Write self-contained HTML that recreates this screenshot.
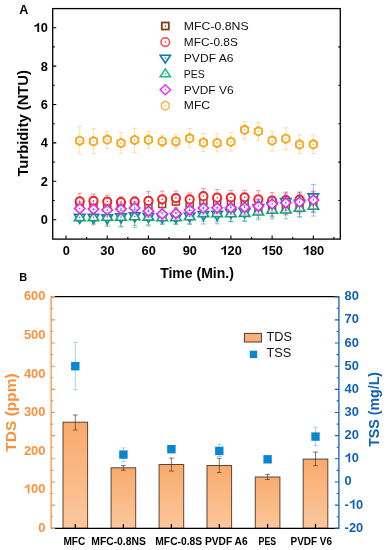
<!DOCTYPE html>
<html><head><meta charset="utf-8"><title>Chart</title>
<style>
html,body{margin:0;padding:0;background:#fff;width:387px;height:550px;overflow:hidden}
svg{display:block;font-family:"Liberation Sans",sans-serif;will-change:transform}
</style></head><body>
<svg width="387" height="550" viewBox="0 0 387 550">
<rect width="387" height="550" fill="#fff"/>
<text x="19.2" y="14" font-size="12.5" font-weight="bold">A</text>
<rect x="52.7" y="8.6" width="287.6" height="230.5" fill="none" stroke="#000" stroke-width="1.3"/>
<path d="M52.7 219.7h3.6M52.7 200.5h2M340.3 200.5h-2M52.7 181.3h3.6M52.7 162.1h2M340.3 162.1h-2M52.7 142.9h3.6M52.7 123.7h2M340.3 123.7h-2M52.7 104.5h3.6M52.7 85.3h2M340.3 85.3h-2M52.7 66.1h3.6M52.7 46.9h2M340.3 46.9h-2M52.7 27.7h3.6M66 239.1v-3.6M86.61 239.1v-2M107.22 239.1v-3.6M127.83 239.1v-2M148.44 239.1v-3.6M169.05 239.1v-2M189.66 239.1v-3.6M210.27 239.1v-2M230.88 239.1v-3.6M251.49 239.1v-2M272.1 239.1v-3.6M292.71 239.1v-2M313.32 239.1v-3.6M333.93 239.1v-2" stroke="#000" stroke-width="1.1" fill="none"/>
<text x="47.8" y="224.1" font-size="12.8" font-weight="bold" text-anchor="end">0</text>
<text x="47.8" y="185.7" font-size="12.8" font-weight="bold" text-anchor="end">2</text>
<text x="47.8" y="147.3" font-size="12.8" font-weight="bold" text-anchor="end">4</text>
<text x="47.8" y="108.9" font-size="12.8" font-weight="bold" text-anchor="end">6</text>
<text x="47.8" y="70.5" font-size="12.8" font-weight="bold" text-anchor="end">8</text>
<path transform="translate(33.57 32.1) scale(12.8 -12.8)" d="M0.296 0L0.434 0L0.434 0.716L0.343 0.716C0.318 0.652 0.236 0.572 0.062 0.512L0.062 0.392C0.158 0.422 0.238 0.462 0.296 0.514Z" fill="#000"/><text x="40.68" y="32.1" font-size="12.8" font-weight="bold" fill="#000">0</text>
<text x="66.2" y="254.8" font-size="12.8" font-weight="bold" text-anchor="middle">0</text>
<text x="107.42" y="254.8" font-size="12.8" font-weight="bold" text-anchor="middle">30</text>
<text x="148.64" y="254.8" font-size="12.8" font-weight="bold" text-anchor="middle">60</text>
<text x="189.86" y="254.8" font-size="12.8" font-weight="bold" text-anchor="middle">90</text>
<path transform="translate(220.4 254.8) scale(12.8 -12.8)" d="M0.296 0L0.434 0L0.434 0.716L0.343 0.716C0.318 0.652 0.236 0.572 0.062 0.512L0.062 0.392C0.158 0.422 0.238 0.462 0.296 0.514Z" fill="#000"/><text x="227.52" y="254.8" font-size="12.8" font-weight="bold" fill="#000">2</text><text x="234.64" y="254.8" font-size="12.8" font-weight="bold" fill="#000">0</text>
<path transform="translate(261.62 254.8) scale(12.8 -12.8)" d="M0.296 0L0.434 0L0.434 0.716L0.343 0.716C0.318 0.652 0.236 0.572 0.062 0.512L0.062 0.392C0.158 0.422 0.238 0.462 0.296 0.514Z" fill="#000"/><text x="268.74" y="254.8" font-size="12.8" font-weight="bold" fill="#000">5</text><text x="275.86" y="254.8" font-size="12.8" font-weight="bold" fill="#000">0</text>
<path transform="translate(302.84 254.8) scale(12.8 -12.8)" d="M0.296 0L0.434 0L0.434 0.716L0.343 0.716C0.318 0.652 0.236 0.572 0.062 0.512L0.062 0.392C0.158 0.422 0.238 0.462 0.296 0.514Z" fill="#000"/><text x="309.96" y="254.8" font-size="12.8" font-weight="bold" fill="#000">8</text><text x="317.08" y="254.8" font-size="12.8" font-weight="bold" fill="#000">0</text>
<text x="197" y="277.6" font-size="14" font-weight="bold" text-anchor="middle">Time (Min.)</text>
<text transform="translate(28.2 123.3) rotate(-90)" font-size="14.8" font-weight="bold" text-anchor="middle">Turbidity (NTU)</text>
<path d="M79.74 198V199.8M77.34 198H82.14M79.74 208.2V210M77.34 210H82.14" stroke="#8c4a1c" stroke-opacity="0.5" stroke-width="0.9" fill="none"/>
<path d="M93.48 198V199.8M91.08 198H95.88M93.48 208.2V210M91.08 210H95.88" stroke="#8c4a1c" stroke-opacity="0.5" stroke-width="0.9" fill="none"/>
<path d="M107.22 199V200.8M104.82 199H109.62M107.22 209.2V211M104.82 211H109.62" stroke="#8c4a1c" stroke-opacity="0.5" stroke-width="0.9" fill="none"/>
<path d="M120.96 199V200.8M118.56 199H123.36M120.96 209.2V211M118.56 211H123.36" stroke="#8c4a1c" stroke-opacity="0.5" stroke-width="0.9" fill="none"/>
<path d="M134.7 199V200.8M132.3 199H137.1M134.7 209.2V211M132.3 211H137.1" stroke="#8c4a1c" stroke-opacity="0.5" stroke-width="0.9" fill="none"/>
<path d="M148.44 198V200.8M146.04 198H150.84M148.44 209.2V212M146.04 212H150.84" stroke="#8c4a1c" stroke-opacity="0.5" stroke-width="0.9" fill="none"/>
<path d="M162.18 197V199.8M159.78 197H164.58M162.18 208.2V211M159.78 211H164.58" stroke="#8c4a1c" stroke-opacity="0.5" stroke-width="0.9" fill="none"/>
<path d="M175.92 194.5V197.3M173.52 194.5H178.32M175.92 205.7V208.5M173.52 208.5H178.32" stroke="#8c4a1c" stroke-opacity="0.5" stroke-width="0.9" fill="none"/>
<path d="M189.66 196.5V199.3M187.26 196.5H192.06M189.66 207.7V210.5M187.26 210.5H192.06" stroke="#8c4a1c" stroke-opacity="0.5" stroke-width="0.9" fill="none"/>
<path d="M203.4 194V196.8M201 194H205.8M203.4 205.2V208M201 208H205.8" stroke="#8c4a1c" stroke-opacity="0.5" stroke-width="0.9" fill="none"/>
<path d="M217.14 195V197.8M214.74 195H219.54M217.14 206.2V209M214.74 209H219.54" stroke="#8c4a1c" stroke-opacity="0.5" stroke-width="0.9" fill="none"/>
<path d="M230.88 195V197.8M228.48 195H233.28M230.88 206.2V209M228.48 209H233.28" stroke="#8c4a1c" stroke-opacity="0.5" stroke-width="0.9" fill="none"/>
<path d="M244.62 195V197.8M242.22 195H247.02M244.62 206.2V209M242.22 209H247.02" stroke="#8c4a1c" stroke-opacity="0.5" stroke-width="0.9" fill="none"/>
<path d="M258.36 201V203.8M255.96 201H260.76M258.36 212.2V215M255.96 215H260.76" stroke="#8c4a1c" stroke-opacity="0.5" stroke-width="0.9" fill="none"/>
<path d="M272.1 202V204.8M269.7 202H274.5M272.1 213.2V216M269.7 216H274.5" stroke="#8c4a1c" stroke-opacity="0.5" stroke-width="0.9" fill="none"/>
<path d="M285.84 201V203.8M283.44 201H288.24M285.84 212.2V215M283.44 215H288.24" stroke="#8c4a1c" stroke-opacity="0.5" stroke-width="0.9" fill="none"/>
<path d="M299.58 199V201.8M297.18 199H301.98M299.58 210.2V213M297.18 213H301.98" stroke="#8c4a1c" stroke-opacity="0.5" stroke-width="0.9" fill="none"/>
<path d="M313.32 196V199.8M310.92 196H315.72M313.32 208.2V212M310.92 212H315.72" stroke="#8c4a1c" stroke-opacity="0.5" stroke-width="0.9" fill="none"/>
<rect x="76.24" y="200.5" width="7" height="7" fill="#fff" stroke="#8c4a1c" stroke-width="1.5"/><circle cx="79.74" cy="204" r="0.8" fill="#8c4a1c"/>
<rect x="89.98" y="200.5" width="7" height="7" fill="#fff" stroke="#8c4a1c" stroke-width="1.5"/><circle cx="93.48" cy="204" r="0.8" fill="#8c4a1c"/>
<rect x="103.72" y="201.5" width="7" height="7" fill="#fff" stroke="#8c4a1c" stroke-width="1.5"/><circle cx="107.22" cy="205" r="0.8" fill="#8c4a1c"/>
<rect x="117.46" y="201.5" width="7" height="7" fill="#fff" stroke="#8c4a1c" stroke-width="1.5"/><circle cx="120.96" cy="205" r="0.8" fill="#8c4a1c"/>
<rect x="131.2" y="201.5" width="7" height="7" fill="#fff" stroke="#8c4a1c" stroke-width="1.5"/><circle cx="134.7" cy="205" r="0.8" fill="#8c4a1c"/>
<rect x="144.94" y="201.5" width="7" height="7" fill="#fff" stroke="#8c4a1c" stroke-width="1.5"/><circle cx="148.44" cy="205" r="0.8" fill="#8c4a1c"/>
<rect x="158.68" y="200.5" width="7" height="7" fill="#fff" stroke="#8c4a1c" stroke-width="1.5"/><circle cx="162.18" cy="204" r="0.8" fill="#8c4a1c"/>
<rect x="172.42" y="198" width="7" height="7" fill="#fff" stroke="#8c4a1c" stroke-width="1.5"/><circle cx="175.92" cy="201.5" r="0.8" fill="#8c4a1c"/>
<rect x="186.16" y="200" width="7" height="7" fill="#fff" stroke="#8c4a1c" stroke-width="1.5"/><circle cx="189.66" cy="203.5" r="0.8" fill="#8c4a1c"/>
<rect x="199.9" y="197.5" width="7" height="7" fill="#fff" stroke="#8c4a1c" stroke-width="1.5"/><circle cx="203.4" cy="201" r="0.8" fill="#8c4a1c"/>
<rect x="213.64" y="198.5" width="7" height="7" fill="#fff" stroke="#8c4a1c" stroke-width="1.5"/><circle cx="217.14" cy="202" r="0.8" fill="#8c4a1c"/>
<rect x="227.38" y="198.5" width="7" height="7" fill="#fff" stroke="#8c4a1c" stroke-width="1.5"/><circle cx="230.88" cy="202" r="0.8" fill="#8c4a1c"/>
<rect x="241.12" y="198.5" width="7" height="7" fill="#fff" stroke="#8c4a1c" stroke-width="1.5"/><circle cx="244.62" cy="202" r="0.8" fill="#8c4a1c"/>
<rect x="254.86" y="204.5" width="7" height="7" fill="#fff" stroke="#8c4a1c" stroke-width="1.5"/><circle cx="258.36" cy="208" r="0.8" fill="#8c4a1c"/>
<rect x="268.6" y="205.5" width="7" height="7" fill="#fff" stroke="#8c4a1c" stroke-width="1.5"/><circle cx="272.1" cy="209" r="0.8" fill="#8c4a1c"/>
<rect x="282.34" y="204.5" width="7" height="7" fill="#fff" stroke="#8c4a1c" stroke-width="1.5"/><circle cx="285.84" cy="208" r="0.8" fill="#8c4a1c"/>
<rect x="296.08" y="202.5" width="7" height="7" fill="#fff" stroke="#8c4a1c" stroke-width="1.5"/><circle cx="299.58" cy="206" r="0.8" fill="#8c4a1c"/>
<rect x="309.82" y="200.5" width="7" height="7" fill="#fff" stroke="#8c4a1c" stroke-width="1.5"/><circle cx="313.32" cy="204" r="0.8" fill="#8c4a1c"/>
<path d="M79.74 193.2V196.4M77.34 193.2H82.14M79.74 206.4V209.6M77.34 209.6H82.14" stroke="#f2222a" stroke-opacity="0.5" stroke-width="0.9" fill="none"/>
<path d="M93.48 194.2V195.9M91.08 194.2H95.88M93.48 205.9V207.6M91.08 207.6H95.88" stroke="#f2222a" stroke-opacity="0.5" stroke-width="0.9" fill="none"/>
<path d="M107.22 195.1V196.5M104.82 195.1H109.62M107.22 206.5V207.9M104.82 207.9H109.62" stroke="#f2222a" stroke-opacity="0.5" stroke-width="0.9" fill="none"/>
<path d="M120.96 196.3V197.1M118.56 196.3H123.36M120.96 207.1V207.9M118.56 207.9H123.36" stroke="#f2222a" stroke-opacity="0.5" stroke-width="0.9" fill="none"/>
<path d="M134.7 196.3V196.5M132.3 196.3H137.1M134.7 206.5V206.7M132.3 206.7H137.1" stroke="#f2222a" stroke-opacity="0.5" stroke-width="0.9" fill="none"/>
<path d="M148.44 191.6V195.9M146.04 191.6H150.84M148.44 205.9V210.2M146.04 210.2H150.84" stroke="#f2222a" stroke-opacity="0.5" stroke-width="0.9" fill="none"/>
<path d="M162.18 191.1V194.3M159.78 191.1H164.58M162.18 204.3V207.5M159.78 207.5H164.58" stroke="#f2222a" stroke-opacity="0.5" stroke-width="0.9" fill="none"/>
<path d="M175.92 191V193.1M173.52 191H178.32M175.92 203.1V205.2M173.52 205.2H178.32" stroke="#f2222a" stroke-opacity="0.5" stroke-width="0.9" fill="none"/>
<path d="M189.66 193V194.4M187.26 193H192.06M189.66 204.4V205.8M187.26 205.8H192.06" stroke="#f2222a" stroke-opacity="0.5" stroke-width="0.9" fill="none"/>
<path d="M203.4 188.7V191.2M201 188.7H205.8M203.4 201.2V203.7M201 203.7H205.8" stroke="#f2222a" stroke-opacity="0.5" stroke-width="0.9" fill="none"/>
<path d="M217.14 189.5V192.7M214.74 189.5H219.54M217.14 202.7V205.9M214.74 205.9H219.54" stroke="#f2222a" stroke-opacity="0.5" stroke-width="0.9" fill="none"/>
<path d="M230.88 190.5V192.5M228.48 190.5H233.28M230.88 202.5V204.5M228.48 204.5H233.28" stroke="#f2222a" stroke-opacity="0.5" stroke-width="0.9" fill="none"/>
<path d="M244.62 190.2V192.3M242.22 190.2H247.02M244.62 202.3V204.4M242.22 204.4H247.02" stroke="#f2222a" stroke-opacity="0.5" stroke-width="0.9" fill="none"/>
<path d="M258.36 190.7V194.4M255.96 190.7H260.76M258.36 204.4V208.1M255.96 208.1H260.76" stroke="#f2222a" stroke-opacity="0.5" stroke-width="0.9" fill="none"/>
<path d="M272.1 192.6V195.6M269.7 192.6H274.5M272.1 205.6V208.6M269.7 208.6H274.5" stroke="#f2222a" stroke-opacity="0.5" stroke-width="0.9" fill="none"/>
<path d="M285.84 193V195M283.44 193H288.24M285.84 205V207M283.44 207H288.24" stroke="#f2222a" stroke-opacity="0.5" stroke-width="0.9" fill="none"/>
<path d="M299.58 192V194.5M297.18 192H301.98M299.58 204.5V207M297.18 207H301.98" stroke="#f2222a" stroke-opacity="0.5" stroke-width="0.9" fill="none"/>
<path d="M313.32 192V194M310.92 192H315.72M313.32 204V206M310.92 206H315.72" stroke="#f2222a" stroke-opacity="0.5" stroke-width="0.9" fill="none"/>
<circle cx="79.74" cy="201.4" r="4.1" fill="#fff" stroke="#f2222a" stroke-width="2.0"/><circle cx="79.74" cy="201.4" r="0.8" fill="#f2222a"/>
<circle cx="93.48" cy="200.9" r="4.1" fill="#fff" stroke="#f2222a" stroke-width="2.0"/><circle cx="93.48" cy="200.9" r="0.8" fill="#f2222a"/>
<circle cx="107.22" cy="201.5" r="4.1" fill="#fff" stroke="#f2222a" stroke-width="2.0"/><circle cx="107.22" cy="201.5" r="0.8" fill="#f2222a"/>
<circle cx="120.96" cy="202.1" r="4.1" fill="#fff" stroke="#f2222a" stroke-width="2.0"/><circle cx="120.96" cy="202.1" r="0.8" fill="#f2222a"/>
<circle cx="134.7" cy="201.5" r="4.1" fill="#fff" stroke="#f2222a" stroke-width="2.0"/><circle cx="134.7" cy="201.5" r="0.8" fill="#f2222a"/>
<circle cx="148.44" cy="200.9" r="4.1" fill="#fff" stroke="#f2222a" stroke-width="2.0"/><circle cx="148.44" cy="200.9" r="0.8" fill="#f2222a"/>
<circle cx="162.18" cy="199.3" r="4.1" fill="#fff" stroke="#f2222a" stroke-width="2.0"/><circle cx="162.18" cy="199.3" r="0.8" fill="#f2222a"/>
<circle cx="175.92" cy="198.1" r="4.1" fill="#fff" stroke="#f2222a" stroke-width="2.0"/><circle cx="175.92" cy="198.1" r="0.8" fill="#f2222a"/>
<circle cx="189.66" cy="199.4" r="4.1" fill="#fff" stroke="#f2222a" stroke-width="2.0"/><circle cx="189.66" cy="199.4" r="0.8" fill="#f2222a"/>
<circle cx="203.4" cy="196.2" r="4.1" fill="#fff" stroke="#f2222a" stroke-width="2.0"/><circle cx="203.4" cy="196.2" r="0.8" fill="#f2222a"/>
<circle cx="217.14" cy="197.7" r="4.1" fill="#fff" stroke="#f2222a" stroke-width="2.0"/><circle cx="217.14" cy="197.7" r="0.8" fill="#f2222a"/>
<circle cx="230.88" cy="197.5" r="4.1" fill="#fff" stroke="#f2222a" stroke-width="2.0"/><circle cx="230.88" cy="197.5" r="0.8" fill="#f2222a"/>
<circle cx="244.62" cy="197.3" r="4.1" fill="#fff" stroke="#f2222a" stroke-width="2.0"/><circle cx="244.62" cy="197.3" r="0.8" fill="#f2222a"/>
<circle cx="258.36" cy="199.4" r="4.1" fill="#fff" stroke="#f2222a" stroke-width="2.0"/><circle cx="258.36" cy="199.4" r="0.8" fill="#f2222a"/>
<circle cx="272.1" cy="200.6" r="4.1" fill="#fff" stroke="#f2222a" stroke-width="2.0"/><circle cx="272.1" cy="200.6" r="0.8" fill="#f2222a"/>
<circle cx="285.84" cy="200" r="4.1" fill="#fff" stroke="#f2222a" stroke-width="2.0"/><circle cx="285.84" cy="200" r="0.8" fill="#f2222a"/>
<circle cx="299.58" cy="199.5" r="4.1" fill="#fff" stroke="#f2222a" stroke-width="2.0"/><circle cx="299.58" cy="199.5" r="0.8" fill="#f2222a"/>
<circle cx="313.32" cy="199" r="4.1" fill="#fff" stroke="#f2222a" stroke-width="2.0"/><circle cx="313.32" cy="199" r="0.8" fill="#f2222a"/>
<polygon points="74.44,214.4 85.04,214.4 79.74,223.4" fill="#fff" stroke="#1a78b8" stroke-width="1.6" stroke-linejoin="miter"/><circle cx="79.74" cy="217.9" r="0.8" fill="#1a78b8"/>
<polygon points="88.18,214.4 98.78,214.4 93.48,223.4" fill="#fff" stroke="#1a78b8" stroke-width="1.6" stroke-linejoin="miter"/><circle cx="93.48" cy="217.9" r="0.8" fill="#1a78b8"/>
<polygon points="101.92,214.9 112.52,214.9 107.22,223.9" fill="#fff" stroke="#1a78b8" stroke-width="1.6" stroke-linejoin="miter"/><circle cx="107.22" cy="218.4" r="0.8" fill="#1a78b8"/>
<polygon points="115.66,213.9 126.26,213.9 120.96,222.9" fill="#fff" stroke="#1a78b8" stroke-width="1.6" stroke-linejoin="miter"/><circle cx="120.96" cy="217.4" r="0.8" fill="#1a78b8"/>
<polygon points="129.4,212.9 140,212.9 134.7,221.9" fill="#fff" stroke="#1a78b8" stroke-width="1.6" stroke-linejoin="miter"/><circle cx="134.7" cy="216.4" r="0.8" fill="#1a78b8"/>
<polygon points="143.14,213.5 153.74,213.5 148.44,222.5" fill="#fff" stroke="#1a78b8" stroke-width="1.6" stroke-linejoin="miter"/><circle cx="148.44" cy="217" r="0.8" fill="#1a78b8"/>
<polygon points="156.88,214 167.48,214 162.18,223" fill="#fff" stroke="#1a78b8" stroke-width="1.6" stroke-linejoin="miter"/><circle cx="162.18" cy="217.5" r="0.8" fill="#1a78b8"/>
<polygon points="170.62,214 181.22,214 175.92,223" fill="#fff" stroke="#1a78b8" stroke-width="1.6" stroke-linejoin="miter"/><circle cx="175.92" cy="217.5" r="0.8" fill="#1a78b8"/>
<polygon points="184.36,213 194.96,213 189.66,222" fill="#fff" stroke="#1a78b8" stroke-width="1.6" stroke-linejoin="miter"/><circle cx="189.66" cy="216.5" r="0.8" fill="#1a78b8"/>
<polygon points="198.1,211.5 208.7,211.5 203.4,220.5" fill="#fff" stroke="#1a78b8" stroke-width="1.6" stroke-linejoin="miter"/><circle cx="203.4" cy="215" r="0.8" fill="#1a78b8"/>
<polygon points="211.84,211.3 222.44,211.3 217.14,220.3" fill="#fff" stroke="#1a78b8" stroke-width="1.6" stroke-linejoin="miter"/><circle cx="217.14" cy="214.8" r="0.8" fill="#1a78b8"/>
<polygon points="225.58,209.3 236.18,209.3 230.88,218.3" fill="#fff" stroke="#1a78b8" stroke-width="1.6" stroke-linejoin="miter"/><circle cx="230.88" cy="212.8" r="0.8" fill="#1a78b8"/>
<polygon points="239.32,208.7 249.92,208.7 244.62,217.7" fill="#fff" stroke="#1a78b8" stroke-width="1.6" stroke-linejoin="miter"/><circle cx="244.62" cy="212.2" r="0.8" fill="#1a78b8"/>
<polygon points="253.06,204.5 263.66,204.5 258.36,213.5" fill="#fff" stroke="#1a78b8" stroke-width="1.6" stroke-linejoin="miter"/><circle cx="258.36" cy="208" r="0.8" fill="#1a78b8"/>
<polygon points="266.8,202.5 277.4,202.5 272.1,211.5" fill="#fff" stroke="#1a78b8" stroke-width="1.6" stroke-linejoin="miter"/><circle cx="272.1" cy="206" r="0.8" fill="#1a78b8"/>
<polygon points="280.54,198.5 291.14,198.5 285.84,207.5" fill="#fff" stroke="#1a78b8" stroke-width="1.6" stroke-linejoin="miter"/><circle cx="285.84" cy="202" r="0.8" fill="#1a78b8"/>
<polygon points="294.28,200.3 304.88,200.3 299.58,209.3" fill="#fff" stroke="#1a78b8" stroke-width="1.6" stroke-linejoin="miter"/><circle cx="299.58" cy="203.8" r="0.8" fill="#1a78b8"/>
<polygon points="308.02,193.9 318.62,193.9 313.32,202.9" fill="#fff" stroke="#1a78b8" stroke-width="1.6" stroke-linejoin="miter"/><circle cx="313.32" cy="197.4" r="0.8" fill="#1a78b8"/>
<polygon points="79.74,212.2 85.04,220.6 74.44,220.6" fill="#fff" stroke="#13a273" stroke-width="1.6" stroke-linejoin="miter"/><circle cx="79.74" cy="217.4" r="0.8" fill="#13a273"/>
<polygon points="93.48,212.2 98.78,220.6 88.18,220.6" fill="#fff" stroke="#13a273" stroke-width="1.6" stroke-linejoin="miter"/><circle cx="93.48" cy="217.4" r="0.8" fill="#13a273"/>
<polygon points="107.22,211.8 112.52,220.2 101.92,220.2" fill="#fff" stroke="#13a273" stroke-width="1.6" stroke-linejoin="miter"/><circle cx="107.22" cy="217" r="0.8" fill="#13a273"/>
<polygon points="120.96,211.8 126.26,220.2 115.66,220.2" fill="#fff" stroke="#13a273" stroke-width="1.6" stroke-linejoin="miter"/><circle cx="120.96" cy="217" r="0.8" fill="#13a273"/>
<polygon points="134.7,211.3 140,219.7 129.4,219.7" fill="#fff" stroke="#13a273" stroke-width="1.6" stroke-linejoin="miter"/><circle cx="134.7" cy="216.5" r="0.8" fill="#13a273"/>
<polygon points="148.44,211.7 153.74,220.1 143.14,220.1" fill="#fff" stroke="#13a273" stroke-width="1.6" stroke-linejoin="miter"/><circle cx="148.44" cy="216.9" r="0.8" fill="#13a273"/>
<polygon points="162.18,212.4 167.48,220.8 156.88,220.8" fill="#fff" stroke="#13a273" stroke-width="1.6" stroke-linejoin="miter"/><circle cx="162.18" cy="217.6" r="0.8" fill="#13a273"/>
<polygon points="175.92,212.4 181.22,220.8 170.62,220.8" fill="#fff" stroke="#13a273" stroke-width="1.6" stroke-linejoin="miter"/><circle cx="175.92" cy="217.6" r="0.8" fill="#13a273"/>
<polygon points="189.66,211.3 194.96,219.7 184.36,219.7" fill="#fff" stroke="#13a273" stroke-width="1.6" stroke-linejoin="miter"/><circle cx="189.66" cy="216.5" r="0.8" fill="#13a273"/>
<polygon points="203.4,208.2 208.7,216.6 198.1,216.6" fill="#fff" stroke="#13a273" stroke-width="1.6" stroke-linejoin="miter"/><circle cx="203.4" cy="213.4" r="0.8" fill="#13a273"/>
<polygon points="217.14,208.2 222.44,216.6 211.84,216.6" fill="#fff" stroke="#13a273" stroke-width="1.6" stroke-linejoin="miter"/><circle cx="217.14" cy="213.4" r="0.8" fill="#13a273"/>
<polygon points="230.88,208.3 236.18,216.7 225.58,216.7" fill="#fff" stroke="#13a273" stroke-width="1.6" stroke-linejoin="miter"/><circle cx="230.88" cy="213.5" r="0.8" fill="#13a273"/>
<polygon points="244.62,208 249.92,216.4 239.32,216.4" fill="#fff" stroke="#13a273" stroke-width="1.6" stroke-linejoin="miter"/><circle cx="244.62" cy="213.2" r="0.8" fill="#13a273"/>
<polygon points="258.36,206.6 263.66,215 253.06,215" fill="#fff" stroke="#13a273" stroke-width="1.6" stroke-linejoin="miter"/><circle cx="258.36" cy="211.8" r="0.8" fill="#13a273"/>
<polygon points="272.1,204.9 277.4,213.3 266.8,213.3" fill="#fff" stroke="#13a273" stroke-width="1.6" stroke-linejoin="miter"/><circle cx="272.1" cy="210.1" r="0.8" fill="#13a273"/>
<polygon points="285.84,204.6 291.14,213 280.54,213" fill="#fff" stroke="#13a273" stroke-width="1.6" stroke-linejoin="miter"/><circle cx="285.84" cy="209.8" r="0.8" fill="#13a273"/>
<polygon points="299.58,202.8 304.88,211.2 294.28,211.2" fill="#fff" stroke="#13a273" stroke-width="1.6" stroke-linejoin="miter"/><circle cx="299.58" cy="208" r="0.8" fill="#13a273"/>
<polygon points="313.32,200.9 318.62,209.3 308.02,209.3" fill="#fff" stroke="#13a273" stroke-width="1.6" stroke-linejoin="miter"/><circle cx="313.32" cy="206.1" r="0.8" fill="#13a273"/>
<polygon points="79.74,203.5 84.94,208.5 79.74,213.5 74.54,208.5" fill="#fff" stroke="#f020f0" stroke-width="1.6"/><circle cx="79.74" cy="208.5" r="0.8" fill="#f020f0"/>
<polygon points="93.48,204.1 98.68,209.1 93.48,214.1 88.28,209.1" fill="#fff" stroke="#f020f0" stroke-width="1.6"/><circle cx="93.48" cy="209.1" r="0.8" fill="#f020f0"/>
<polygon points="107.22,205 112.42,210 107.22,215 102.02,210" fill="#fff" stroke="#f020f0" stroke-width="1.6"/><circle cx="107.22" cy="210" r="0.8" fill="#f020f0"/>
<polygon points="120.96,204.1 126.16,209.1 120.96,214.1 115.76,209.1" fill="#fff" stroke="#f020f0" stroke-width="1.6"/><circle cx="120.96" cy="209.1" r="0.8" fill="#f020f0"/>
<polygon points="134.7,203 139.9,208 134.7,213 129.5,208" fill="#fff" stroke="#f020f0" stroke-width="1.6"/><circle cx="134.7" cy="208" r="0.8" fill="#f020f0"/>
<polygon points="148.44,206.2 153.64,211.2 148.44,216.2 143.24,211.2" fill="#fff" stroke="#f020f0" stroke-width="1.6"/><circle cx="148.44" cy="211.2" r="0.8" fill="#f020f0"/>
<polygon points="162.18,209 167.38,214 162.18,219 156.98,214" fill="#fff" stroke="#f020f0" stroke-width="1.6"/><circle cx="162.18" cy="214" r="0.8" fill="#f020f0"/>
<polygon points="175.92,208.4 181.12,213.4 175.92,218.4 170.72,213.4" fill="#fff" stroke="#f020f0" stroke-width="1.6"/><circle cx="175.92" cy="213.4" r="0.8" fill="#f020f0"/>
<polygon points="189.66,204.9 194.86,209.9 189.66,214.9 184.46,209.9" fill="#fff" stroke="#f020f0" stroke-width="1.6"/><circle cx="189.66" cy="209.9" r="0.8" fill="#f020f0"/>
<polygon points="203.4,203 208.6,208 203.4,213 198.2,208" fill="#fff" stroke="#f020f0" stroke-width="1.6"/><circle cx="203.4" cy="208" r="0.8" fill="#f020f0"/>
<polygon points="217.14,202.8 222.34,207.8 217.14,212.8 211.94,207.8" fill="#fff" stroke="#f020f0" stroke-width="1.6"/><circle cx="217.14" cy="207.8" r="0.8" fill="#f020f0"/>
<polygon points="230.88,202.8 236.08,207.8 230.88,212.8 225.68,207.8" fill="#fff" stroke="#f020f0" stroke-width="1.6"/><circle cx="230.88" cy="207.8" r="0.8" fill="#f020f0"/>
<polygon points="244.62,202.4 249.82,207.4 244.62,212.4 239.42,207.4" fill="#fff" stroke="#f020f0" stroke-width="1.6"/><circle cx="244.62" cy="207.4" r="0.8" fill="#f020f0"/>
<polygon points="258.36,201.2 263.56,206.2 258.36,211.2 253.16,206.2" fill="#fff" stroke="#f020f0" stroke-width="1.6"/><circle cx="258.36" cy="206.2" r="0.8" fill="#f020f0"/>
<polygon points="272.1,199 277.3,204 272.1,209 266.9,204" fill="#fff" stroke="#f020f0" stroke-width="1.6"/><circle cx="272.1" cy="204" r="0.8" fill="#f020f0"/>
<polygon points="285.84,197.8 291.04,202.8 285.84,207.8 280.64,202.8" fill="#fff" stroke="#f020f0" stroke-width="1.6"/><circle cx="285.84" cy="202.8" r="0.8" fill="#f020f0"/>
<polygon points="299.58,197 304.78,202 299.58,207 294.38,202" fill="#fff" stroke="#f020f0" stroke-width="1.6"/><circle cx="299.58" cy="202" r="0.8" fill="#f020f0"/>
<polygon points="313.32,195 318.52,200 313.32,205 308.12,200" fill="#fff" stroke="#f020f0" stroke-width="1.6"/><circle cx="313.32" cy="200" r="0.8" fill="#f020f0"/>

<path d="M93.48 212.9V213.6M91.08 212.9H95.88M93.48 224.2V224.9M91.08 224.9H95.88" stroke="#1a78b8" stroke-opacity="0.5" stroke-width="0.9" fill="none"/>
<path d="M107.22 212.4V214.1M104.82 212.4H109.62M107.22 224.7V226.4M104.82 226.4H109.62" stroke="#1a78b8" stroke-opacity="0.5" stroke-width="0.9" fill="none"/>
<path d="M120.96 210.4V213.1M118.56 210.4H123.36M120.96 223.7V226.4M118.56 226.4H123.36" stroke="#1a78b8" stroke-opacity="0.5" stroke-width="0.9" fill="none"/>
<path d="M134.7 209.4V212.1M132.3 209.4H137.1M134.7 222.7V225.4M132.3 225.4H137.1" stroke="#1a78b8" stroke-opacity="0.5" stroke-width="0.9" fill="none"/>
<path d="M148.44 211V212.7M146.04 211H150.84M148.44 223.3V225M146.04 225H150.84" stroke="#1a78b8" stroke-opacity="0.5" stroke-width="0.9" fill="none"/>
<path d="M162.18 212.5V213.2M159.78 212.5H164.58M162.18 223.8V224.5M159.78 224.5H164.58" stroke="#1a78b8" stroke-opacity="0.5" stroke-width="0.9" fill="none"/>
<path d="M175.92 212.5V213.2M173.52 212.5H178.32M175.92 223.8V224.5M173.52 224.5H178.32" stroke="#1a78b8" stroke-opacity="0.5" stroke-width="0.9" fill="none"/>
<path d="M189.66 210.5V212.2M187.26 210.5H192.06M189.66 222.8V224.5M187.26 224.5H192.06" stroke="#1a78b8" stroke-opacity="0.5" stroke-width="0.9" fill="none"/>
<path d="M203.4 208V210.7M201 208H205.8M203.4 221.3V224M201 224H205.8" stroke="#1a78b8" stroke-opacity="0.5" stroke-width="0.9" fill="none"/>
<path d="M217.14 207.8V210.5M214.74 207.8H219.54M217.14 221.1V223.8M214.74 223.8H219.54" stroke="#1a78b8" stroke-opacity="0.5" stroke-width="0.9" fill="none"/>
<path d="M230.88 205.8V208.5M228.48 205.8H233.28M230.88 219.1V221.8M228.48 221.8H233.28" stroke="#1a78b8" stroke-opacity="0.5" stroke-width="0.9" fill="none"/>
<path d="M244.62 205.2V207.9M242.22 205.2H247.02M244.62 218.5V221.2M242.22 221.2H247.02" stroke="#1a78b8" stroke-opacity="0.5" stroke-width="0.9" fill="none"/>
<path d="M258.36 200V203.7M255.96 200H260.76M258.36 214.3V218M255.96 218H260.76" stroke="#1a78b8" stroke-opacity="0.5" stroke-width="0.9" fill="none"/>
<path d="M272.1 197V201.7M269.7 197H274.5M272.1 212.3V217M269.7 217H274.5" stroke="#1a78b8" stroke-opacity="0.5" stroke-width="0.9" fill="none"/>
<path d="M285.84 192V197.7M283.44 192H288.24M285.84 208.3V214M283.44 214H288.24" stroke="#1a78b8" stroke-opacity="0.5" stroke-width="0.9" fill="none"/>
<path d="M299.58 192.8V199.5M297.18 192.8H301.98M299.58 210.1V216.8M297.18 216.8H301.98" stroke="#1a78b8" stroke-opacity="0.5" stroke-width="0.9" fill="none"/>
<path d="M313.32 184.4V193.1M310.92 184.4H315.72M313.32 203.7V212.4M310.92 212.4H315.72" stroke="#1a78b8" stroke-opacity="0.5" stroke-width="0.9" fill="none"/>

<path d="M93.48 209.4V211.4M91.08 209.4H95.88M93.48 221.4V223.4M91.08 223.4H95.88" stroke="#13a273" stroke-opacity="0.5" stroke-width="0.9" fill="none"/>
<path d="M107.22 207V211M104.82 207H109.62M107.22 221V225M104.82 225H109.62" stroke="#13a273" stroke-opacity="0.5" stroke-width="0.9" fill="none"/>
<path d="M120.96 205V211M118.56 205H123.36M120.96 221V227M118.56 227H123.36" stroke="#13a273" stroke-opacity="0.5" stroke-width="0.9" fill="none"/>
<path d="M134.7 203.5V210.5M132.3 203.5H137.1M134.7 220.5V227.5M132.3 227.5H137.1" stroke="#13a273" stroke-opacity="0.5" stroke-width="0.9" fill="none"/>
<path d="M148.44 205.9V210.9M146.04 205.9H150.84M148.44 220.9V225.9M146.04 225.9H150.84" stroke="#13a273" stroke-opacity="0.5" stroke-width="0.9" fill="none"/>
<path d="M162.18 209.6V211.6M159.78 209.6H164.58M162.18 221.6V223.6M159.78 223.6H164.58" stroke="#13a273" stroke-opacity="0.5" stroke-width="0.9" fill="none"/>
<path d="M175.92 209.6V211.6M173.52 209.6H178.32M175.92 221.6V223.6M173.52 223.6H178.32" stroke="#13a273" stroke-opacity="0.5" stroke-width="0.9" fill="none"/>
<path d="M189.66 207.5V210.5M187.26 207.5H192.06M189.66 220.5V223.5M187.26 223.5H192.06" stroke="#13a273" stroke-opacity="0.5" stroke-width="0.9" fill="none"/>
<path d="M203.4 203.4V207.4M201 203.4H205.8M203.4 217.4V221.4M201 221.4H205.8" stroke="#13a273" stroke-opacity="0.5" stroke-width="0.9" fill="none"/>
<path d="M217.14 203.4V207.4M214.74 203.4H219.54M217.14 217.4V221.4M214.74 221.4H219.54" stroke="#13a273" stroke-opacity="0.5" stroke-width="0.9" fill="none"/>
<path d="M230.88 203.5V207.5M228.48 203.5H233.28M230.88 217.5V221.5M228.48 221.5H233.28" stroke="#13a273" stroke-opacity="0.5" stroke-width="0.9" fill="none"/>
<path d="M244.62 203.2V207.2M242.22 203.2H247.02M244.62 217.2V221.2M242.22 221.2H247.02" stroke="#13a273" stroke-opacity="0.5" stroke-width="0.9" fill="none"/>
<path d="M258.36 201.8V205.8M255.96 201.8H260.76M258.36 215.8V219.8M255.96 219.8H260.76" stroke="#13a273" stroke-opacity="0.5" stroke-width="0.9" fill="none"/>
<path d="M272.1 199.1V204.1M269.7 199.1H274.5M272.1 214.1V219.1M269.7 219.1H274.5" stroke="#13a273" stroke-opacity="0.5" stroke-width="0.9" fill="none"/>
<path d="M285.84 198.8V203.8M283.44 198.8H288.24M285.84 213.8V218.8M283.44 218.8H288.24" stroke="#13a273" stroke-opacity="0.5" stroke-width="0.9" fill="none"/>
<path d="M299.58 197V202M297.18 197H301.98M299.58 212V217M297.18 217H301.98" stroke="#13a273" stroke-opacity="0.5" stroke-width="0.9" fill="none"/>
<path d="M313.32 194.1V200.1M310.92 194.1H315.72M313.32 210.1V216.1M310.92 216.1H315.72" stroke="#13a273" stroke-opacity="0.5" stroke-width="0.9" fill="none"/>
<path d="M79.74 202.5V202.9M77.34 202.5H82.14M79.74 214.1V214.5M77.34 214.5H82.14" stroke="#f020f0" stroke-opacity="0.5" stroke-width="0.9" fill="none"/>
<path d="M93.48 203.1V203.5M91.08 203.1H95.88M93.48 214.7V215.1M91.08 215.1H95.88" stroke="#f020f0" stroke-opacity="0.5" stroke-width="0.9" fill="none"/>
<path d="M107.22 204V204.4M104.82 204H109.62M107.22 215.6V216M104.82 216H109.62" stroke="#f020f0" stroke-opacity="0.5" stroke-width="0.9" fill="none"/>
<path d="M120.96 203.1V203.5M118.56 203.1H123.36M120.96 214.7V215.1M118.56 215.1H123.36" stroke="#f020f0" stroke-opacity="0.5" stroke-width="0.9" fill="none"/>
<path d="M134.7 202V202.4M132.3 202H137.1M134.7 213.6V214M132.3 214H137.1" stroke="#f020f0" stroke-opacity="0.5" stroke-width="0.9" fill="none"/>
<path d="M148.44 205.2V205.6M146.04 205.2H150.84M148.44 216.8V217.2M146.04 217.2H150.84" stroke="#f020f0" stroke-opacity="0.5" stroke-width="0.9" fill="none"/>
<path d="M162.18 208V208.4M159.78 208H164.58M162.18 219.6V220M159.78 220H164.58" stroke="#f020f0" stroke-opacity="0.5" stroke-width="0.9" fill="none"/>
<path d="M175.92 207.4V207.8M173.52 207.4H178.32M175.92 219V219.4M173.52 219.4H178.32" stroke="#f020f0" stroke-opacity="0.5" stroke-width="0.9" fill="none"/>
<path d="M189.66 203.9V204.3M187.26 203.9H192.06M189.66 215.5V215.9M187.26 215.9H192.06" stroke="#f020f0" stroke-opacity="0.5" stroke-width="0.9" fill="none"/>
<path d="M203.4 202V202.4M201 202H205.8M203.4 213.6V214M201 214H205.8" stroke="#f020f0" stroke-opacity="0.5" stroke-width="0.9" fill="none"/>
<path d="M217.14 201.8V202.2M214.74 201.8H219.54M217.14 213.4V213.8M214.74 213.8H219.54" stroke="#f020f0" stroke-opacity="0.5" stroke-width="0.9" fill="none"/>
<path d="M230.88 200.8V202.2M228.48 200.8H233.28M230.88 213.4V214.8M228.48 214.8H233.28" stroke="#f020f0" stroke-opacity="0.5" stroke-width="0.9" fill="none"/>
<path d="M244.62 200.4V201.8M242.22 200.4H247.02M244.62 213V214.4M242.22 214.4H247.02" stroke="#f020f0" stroke-opacity="0.5" stroke-width="0.9" fill="none"/>
<path d="M258.36 199.2V200.6M255.96 199.2H260.76M258.36 211.8V213.2M255.96 213.2H260.76" stroke="#f020f0" stroke-opacity="0.5" stroke-width="0.9" fill="none"/>
<path d="M272.1 196V198.4M269.7 196H274.5M272.1 209.6V212M269.7 212H274.5" stroke="#f020f0" stroke-opacity="0.5" stroke-width="0.9" fill="none"/>
<path d="M285.84 194.8V197.2M283.44 194.8H288.24M285.84 208.4V210.8M283.44 210.8H288.24" stroke="#f020f0" stroke-opacity="0.5" stroke-width="0.9" fill="none"/>
<path d="M299.58 194V196.4M297.18 194H301.98M299.58 207.6V210M297.18 210H301.98" stroke="#f020f0" stroke-opacity="0.5" stroke-width="0.9" fill="none"/>
<path d="M313.32 191V194.4M310.92 191H315.72M313.32 205.6V209M310.92 209H315.72" stroke="#f020f0" stroke-opacity="0.5" stroke-width="0.9" fill="none"/>
<path d="M79.74 126.2V135.5M77.34 126.2H82.14M79.74 145.9V154.1M77.34 154.1H82.14" stroke="#f5a81c" stroke-opacity="0.4" stroke-width="0.9" fill="none"/>
<path d="M93.48 128.7V136.1M91.08 128.7H95.88M93.48 146.5V153.5M91.08 153.5H95.88" stroke="#f5a81c" stroke-opacity="0.4" stroke-width="0.9" fill="none"/>
<path d="M107.22 131.4V134.4M104.82 131.4H109.62M107.22 144.8V148.3M104.82 148.3H109.62" stroke="#f5a81c" stroke-opacity="0.4" stroke-width="0.9" fill="none"/>
<path d="M120.96 132.4V137.9M118.56 132.4H123.36M120.96 148.3V153.7M118.56 153.7H123.36" stroke="#f5a81c" stroke-opacity="0.4" stroke-width="0.9" fill="none"/>
<path d="M134.7 128.3V134.8M132.3 128.3H137.1M134.7 145.2V152.4M132.3 152.4H137.1" stroke="#f5a81c" stroke-opacity="0.4" stroke-width="0.9" fill="none"/>
<path d="M148.44 131.7V134.6M146.04 131.7H150.84M148.44 145V148.3M146.04 148.3H150.84" stroke="#f5a81c" stroke-opacity="0.4" stroke-width="0.9" fill="none"/>
<path d="M162.18 135.2V136.2M159.78 135.2H164.58M162.18 146.6V147.2M159.78 147.2H164.58" stroke="#f5a81c" stroke-opacity="0.4" stroke-width="0.9" fill="none"/>
<path d="M175.92 134.4V136.2M173.52 134.4H178.32M175.92 146.6V148.3M173.52 148.3H178.32" stroke="#f5a81c" stroke-opacity="0.4" stroke-width="0.9" fill="none"/>
<path d="M189.66 128.6V133.1M187.26 128.6H192.06M189.66 143.5V147.9M187.26 147.9H192.06" stroke="#f5a81c" stroke-opacity="0.4" stroke-width="0.9" fill="none"/>
<path d="M203.4 133.3V137.4M201 133.3H205.8M203.4 147.8V151.6M201 151.6H205.8" stroke="#f5a81c" stroke-opacity="0.4" stroke-width="0.9" fill="none"/>
<path d="M217.14 133.3V137.7M214.74 133.3H219.54M217.14 148.1V151.9M214.74 151.9H219.54" stroke="#f5a81c" stroke-opacity="0.4" stroke-width="0.9" fill="none"/>
<path d="M230.88 132.5V136.6M228.48 132.5H233.28M230.88 147V151.1M228.48 151.1H233.28" stroke="#f5a81c" stroke-opacity="0.4" stroke-width="0.9" fill="none"/>
<path d="M244.62 121.6V124.6M242.22 121.6H247.02M244.62 135V139.1M242.22 139.1H247.02" stroke="#f5a81c" stroke-opacity="0.4" stroke-width="0.9" fill="none"/>
<path d="M258.36 122.6V126.1M255.96 122.6H260.76M258.36 136.5V140.4M255.96 140.4H260.76" stroke="#f5a81c" stroke-opacity="0.4" stroke-width="0.9" fill="none"/>
<path d="M272.1 131.3V135.4M269.7 131.3H274.5M272.1 145.8V151.1M269.7 151.1H274.5" stroke="#f5a81c" stroke-opacity="0.4" stroke-width="0.9" fill="none"/>
<path d="M285.84 127.8V133.5M283.44 127.8H288.24M285.84 143.9V149.7M283.44 149.7H288.24" stroke="#f5a81c" stroke-opacity="0.4" stroke-width="0.9" fill="none"/>
<path d="M299.58 134.8V139.3M297.18 134.8H301.98M299.58 149.7V153.6M297.18 153.6H301.98" stroke="#f5a81c" stroke-opacity="0.4" stroke-width="0.9" fill="none"/>
<path d="M313.32 134.8V139.1M310.92 134.8H315.72M313.32 149.5V153.6M310.92 153.6H315.72" stroke="#f5a81c" stroke-opacity="0.4" stroke-width="0.9" fill="none"/>
<polygon points="79.74,136.3 76.12,138.5 76.12,142.9 79.74,145.1 83.36,142.9 83.36,138.5" fill="#fff" stroke="#f5a81c" stroke-width="1.9"/><circle cx="79.74" cy="140.7" r="0.8" fill="#f5a81c"/>
<polygon points="93.48,136.9 89.86,139.1 89.86,143.5 93.48,145.7 97.1,143.5 97.1,139.1" fill="#fff" stroke="#f5a81c" stroke-width="1.9"/><circle cx="93.48" cy="141.3" r="0.8" fill="#f5a81c"/>
<polygon points="107.22,135.2 103.6,137.4 103.6,141.8 107.22,144 110.84,141.8 110.84,137.4" fill="#fff" stroke="#f5a81c" stroke-width="1.9"/><circle cx="107.22" cy="139.6" r="0.8" fill="#f5a81c"/>
<polygon points="120.96,138.7 117.34,140.9 117.34,145.3 120.96,147.5 124.58,145.3 124.58,140.9" fill="#fff" stroke="#f5a81c" stroke-width="1.9"/><circle cx="120.96" cy="143.1" r="0.8" fill="#f5a81c"/>
<polygon points="134.7,135.6 131.08,137.8 131.08,142.2 134.7,144.4 138.32,142.2 138.32,137.8" fill="#fff" stroke="#f5a81c" stroke-width="1.9"/><circle cx="134.7" cy="140" r="0.8" fill="#f5a81c"/>
<polygon points="148.44,135.4 144.82,137.6 144.82,142 148.44,144.2 152.06,142 152.06,137.6" fill="#fff" stroke="#f5a81c" stroke-width="1.9"/><circle cx="148.44" cy="139.8" r="0.8" fill="#f5a81c"/>
<polygon points="162.18,137 158.56,139.2 158.56,143.6 162.18,145.8 165.8,143.6 165.8,139.2" fill="#fff" stroke="#f5a81c" stroke-width="1.9"/><circle cx="162.18" cy="141.4" r="0.8" fill="#f5a81c"/>
<polygon points="175.92,137 172.3,139.2 172.3,143.6 175.92,145.8 179.54,143.6 179.54,139.2" fill="#fff" stroke="#f5a81c" stroke-width="1.9"/><circle cx="175.92" cy="141.4" r="0.8" fill="#f5a81c"/>
<polygon points="189.66,133.9 186.04,136.1 186.04,140.5 189.66,142.7 193.28,140.5 193.28,136.1" fill="#fff" stroke="#f5a81c" stroke-width="1.9"/><circle cx="189.66" cy="138.3" r="0.8" fill="#f5a81c"/>
<polygon points="203.4,138.2 199.78,140.4 199.78,144.8 203.4,147 207.02,144.8 207.02,140.4" fill="#fff" stroke="#f5a81c" stroke-width="1.9"/><circle cx="203.4" cy="142.6" r="0.8" fill="#f5a81c"/>
<polygon points="217.14,138.5 213.52,140.7 213.52,145.1 217.14,147.3 220.76,145.1 220.76,140.7" fill="#fff" stroke="#f5a81c" stroke-width="1.9"/><circle cx="217.14" cy="142.9" r="0.8" fill="#f5a81c"/>
<polygon points="230.88,137.4 227.26,139.6 227.26,144 230.88,146.2 234.5,144 234.5,139.6" fill="#fff" stroke="#f5a81c" stroke-width="1.9"/><circle cx="230.88" cy="141.8" r="0.8" fill="#f5a81c"/>
<polygon points="244.62,125.4 241,127.6 241,132 244.62,134.2 248.24,132 248.24,127.6" fill="#fff" stroke="#f5a81c" stroke-width="1.9"/><circle cx="244.62" cy="129.8" r="0.8" fill="#f5a81c"/>
<polygon points="258.36,126.9 254.74,129.1 254.74,133.5 258.36,135.7 261.98,133.5 261.98,129.1" fill="#fff" stroke="#f5a81c" stroke-width="1.9"/><circle cx="258.36" cy="131.3" r="0.8" fill="#f5a81c"/>
<polygon points="272.1,136.2 268.48,138.4 268.48,142.8 272.1,145 275.72,142.8 275.72,138.4" fill="#fff" stroke="#f5a81c" stroke-width="1.9"/><circle cx="272.1" cy="140.6" r="0.8" fill="#f5a81c"/>
<polygon points="285.84,134.3 282.22,136.5 282.22,140.9 285.84,143.1 289.46,140.9 289.46,136.5" fill="#fff" stroke="#f5a81c" stroke-width="1.9"/><circle cx="285.84" cy="138.7" r="0.8" fill="#f5a81c"/>
<polygon points="299.58,140.1 295.96,142.3 295.96,146.7 299.58,148.9 303.2,146.7 303.2,142.3" fill="#fff" stroke="#f5a81c" stroke-width="1.9"/><circle cx="299.58" cy="144.5" r="0.8" fill="#f5a81c"/>
<polygon points="313.32,139.9 309.7,142.1 309.7,146.5 313.32,148.7 316.94,146.5 316.94,142.1" fill="#fff" stroke="#f5a81c" stroke-width="1.9"/><circle cx="313.32" cy="144.3" r="0.8" fill="#f5a81c"/>
<rect x="161.8" y="22.5" width="7" height="7" fill="#fff" stroke="#7e3f14" stroke-width="1.8"/><circle cx="165.3" cy="26" r="0.8" fill="#7e3f14"/>
<text x="183.8" y="30.1" font-size="11.8" fill="#111" textLength="64.9" lengthAdjust="spacingAndGlyphs">MFC-0.8NS</text>
<circle cx="165.3" cy="42.1" r="4.3" fill="#fff" stroke="#ff4550" stroke-width="1.5"/><circle cx="165.3" cy="42.1" r="0.8" fill="#ff4550"/>
<text x="183.8" y="45.8" font-size="11.8" fill="#111" textLength="54" lengthAdjust="spacingAndGlyphs">MFC-0.8S</text>
<polygon points="160.1,55.2 170.5,55.2 165.3,63" fill="#fff" stroke="#0f78be" stroke-width="1.6" stroke-linejoin="miter"/><circle cx="165.3" cy="58.1" r="0.8" fill="#0f78be"/>
<text x="183.8" y="62.1" font-size="11.8" fill="#111" textLength="49.8" lengthAdjust="spacingAndGlyphs">PVDF A6</text>
<polygon points="165.3,68.9 170.4,76.7 160.2,76.7" fill="#fff" stroke="#1ebd80" stroke-width="1.6" stroke-linejoin="miter"/><circle cx="165.3" cy="73.8" r="0.8" fill="#1ebd80"/>
<text x="183.8" y="77.8" font-size="11.8" fill="#111" textLength="20.9" lengthAdjust="spacingAndGlyphs">PES</text>
<polygon points="165.3,84.8 170.5,89.8 165.3,94.8 160.1,89.8" fill="#fff" stroke="#f030f0" stroke-width="1.5"/><circle cx="165.3" cy="89.8" r="0.8" fill="#f030f0"/>
<text x="183.8" y="93.5" font-size="11.8" fill="#111" textLength="49.8" lengthAdjust="spacingAndGlyphs">PVDF V6</text>
<polygon points="165.3,101.1 161.52,103.4 161.52,108 165.3,110.3 169.08,108 169.08,103.4" fill="#fff" stroke="#f5b445" stroke-width="1.4"/><circle cx="165.3" cy="105.7" r="0.8" fill="#f5b445"/>
<text x="183.8" y="109.4" font-size="11.8" fill="#111" textLength="26.3" lengthAdjust="spacingAndGlyphs">MFC</text>
<text x="19.3" y="280.9" font-size="11" font-weight="bold">B</text>
<defs><linearGradient id="bg" x1="0" y1="0" x2="0" y2="1"><stop offset="0" stop-color="#f9aa6c"/><stop offset="1" stop-color="#fcc79c"/></linearGradient></defs>
<rect x="63" y="422.2" width="24.6" height="106.1" fill="url(#bg)" stroke="#5a4538" stroke-width="1.0"/>
<rect x="111.1" y="467.8" width="24.6" height="60.5" fill="url(#bg)" stroke="#5a4538" stroke-width="1.0"/>
<rect x="159.1" y="464.5" width="24.6" height="63.8" fill="url(#bg)" stroke="#5a4538" stroke-width="1.0"/>
<rect x="207" y="465.5" width="24.6" height="62.8" fill="url(#bg)" stroke="#5a4538" stroke-width="1.0"/>
<rect x="255.3" y="477" width="24.6" height="51.3" fill="url(#bg)" stroke="#5a4538" stroke-width="1.0"/>
<rect x="303.2" y="459.1" width="24.6" height="69.2" fill="url(#bg)" stroke="#5a4538" stroke-width="1.0"/>
<g stroke="#3a3a3a" stroke-opacity="0.8" stroke-width="0.85" fill="none"><path d="M75.3 415V430M72.9 415H77.7M72.9 430H77.7"/></g>
<g stroke="#3a3a3a" stroke-opacity="0.8" stroke-width="0.85" fill="none"><path d="M123.4 465.5V470.3M121 465.5H125.8M121 470.3H125.8"/></g>
<g stroke="#3a3a3a" stroke-opacity="0.8" stroke-width="0.85" fill="none"><path d="M171.4 458.1V471.1M169 458.1H173.8M169 471.1H173.8"/></g>
<g stroke="#3a3a3a" stroke-opacity="0.8" stroke-width="0.85" fill="none"><path d="M219.3 458.3V472.5M216.9 458.3H221.7M216.9 472.5H221.7"/></g>
<g stroke="#3a3a3a" stroke-opacity="0.8" stroke-width="0.85" fill="none"><path d="M267.6 474.4V479.5M265.2 474.4H270M265.2 479.5H270"/></g>
<g stroke="#3a3a3a" stroke-opacity="0.8" stroke-width="0.85" fill="none"><path d="M315.5 452.1V465.7M313.1 452.1H317.9M313.1 465.7H317.9"/></g>
<path d="M51.1 296.7H338.9M51.1 528.3H338.9" stroke="#000" stroke-width="1.3"/>
<path d="M51.1 296.09999999999997V528.3" stroke="#f7923f" stroke-width="1.3"/>
<path d="M338.9 296.09999999999997V528.9" stroke="#0f62b6" stroke-width="1.3"/>
<path d="M51.1 308.28h2.2M51.1 319.86h4.0M51.1 331.44h2.2M51.1 343.02h4.0M51.1 354.6h2.2M51.1 366.18h4.0M51.1 377.76h2.2M51.1 389.34h4.0M51.1 400.92h2.2M51.1 412.5h4.0M51.1 424.08h2.2M51.1 435.66h4.0M51.1 447.24h2.2M51.1 458.82h4.0M51.1 470.4h2.2M51.1 481.98h4.0M51.1 493.56h2.2M51.1 505.14h4.0M51.1 516.72h2.2" stroke="#f7923f" stroke-width="1.1"/>
<path d="M338.9 308.28h-2.2M338.9 319.86h-4.0M338.9 331.44h-2.2M338.9 343.02h-4.0M338.9 354.6h-2.2M338.9 366.18h-4.0M338.9 377.76h-2.2M338.9 389.34h-4.0M338.9 400.92h-2.2M338.9 412.5h-4.0M338.9 424.08h-2.2M338.9 435.66h-4.0M338.9 447.24h-2.2M338.9 458.82h-4.0M338.9 470.4h-2.2M338.9 481.98h-4.0M338.9 493.56h-2.2M338.9 505.14h-4.0M338.9 516.72h-2.2" stroke="#0f62b6" stroke-width="1.1"/>
<path d="M51.1 296.7h4M51.1 528.3h4" stroke="#f7923f" stroke-width="1.35"/>
<path d="M338.9 296.7h-4M338.9 528.3h-4" stroke="#0f62b6" stroke-width="1.35"/>
<path d="M75.3 528.3v-4.4M123.4 528.3v-4.4M171.4 528.3v-4.4M219.3 528.3v-4.4M267.6 528.3v-4.4M315.5 528.3v-4.4" stroke="#000" stroke-width="1.2"/>
<g stroke="#5ab0e0" stroke-opacity="0.6" stroke-width="0.9" fill="none"><path d="M75.3 342.4V389.6M72.9 342.4H77.7M72.9 389.6H77.7"/></g>
<g stroke="#5ab0e0" stroke-opacity="0.6" stroke-width="0.9" fill="none"><path d="M123.4 447.9V461.7M121 447.9H125.8M121 461.7H125.8"/></g>
<g stroke="#5ab0e0" stroke-opacity="0.6" stroke-width="0.9" fill="none"><path d="M171.4 447V451.5M169 447H173.8M169 451.5H173.8"/></g>
<g stroke="#5ab0e0" stroke-opacity="0.6" stroke-width="0.9" fill="none"><path d="M219.3 444.4V456.5M216.9 444.4H221.7M216.9 456.5H221.7"/></g>
<g stroke="#5ab0e0" stroke-opacity="0.6" stroke-width="0.9" fill="none"><path d="M267.6 457.5V461M265.2 457.5H270M265.2 461H270"/></g>
<g stroke="#5ab0e0" stroke-opacity="0.6" stroke-width="0.9" fill="none"><path d="M315.5 427.2V445.8M313.1 427.2H317.9M313.1 445.8H317.9"/></g>
<rect x="71.1" y="362" width="8.4" height="8.4" fill="#0a87cc"/>
<rect x="119.2" y="450.4" width="8.4" height="8.4" fill="#0a87cc"/>
<rect x="167.2" y="445" width="8.4" height="8.4" fill="#0a87cc"/>
<rect x="215.1" y="446.7" width="8.4" height="8.4" fill="#0a87cc"/>
<rect x="263.4" y="455.1" width="8.4" height="8.4" fill="#0a87cc"/>
<rect x="311.3" y="432.4" width="8.4" height="8.4" fill="#0a87cc"/>
<text x="45.4" y="531.9" font-size="12.9" font-weight="bold" text-anchor="end" fill="#f7923f">0</text>
<path transform="translate(23.88 493.3) scale(12.9 -12.9)" d="M0.296 0L0.434 0L0.434 0.716L0.343 0.716C0.318 0.652 0.236 0.572 0.062 0.512L0.062 0.392C0.158 0.422 0.238 0.462 0.296 0.514Z" fill="#f7923f"/><text x="31.06" y="493.3" font-size="12.9" font-weight="bold" fill="#f7923f">0</text><text x="38.23" y="493.3" font-size="12.9" font-weight="bold" fill="#f7923f">0</text>
<text x="45.4" y="454.7" font-size="12.9" font-weight="bold" text-anchor="end" fill="#f7923f">200</text>
<text x="45.4" y="416.1" font-size="12.9" font-weight="bold" text-anchor="end" fill="#f7923f">300</text>
<text x="45.4" y="377.5" font-size="12.9" font-weight="bold" text-anchor="end" fill="#f7923f">400</text>
<text x="45.4" y="338.9" font-size="12.9" font-weight="bold" text-anchor="end" fill="#f7923f">500</text>
<text x="45.4" y="300.3" font-size="12.9" font-weight="bold" text-anchor="end" fill="#f7923f">600</text>
<text x="344.6" y="531.8" font-size="12.9" font-weight="bold" fill="#0f62b6">-20</text>
<text x="344.6" y="508.64" font-size="12.9" font-weight="bold" fill="#0f62b6">-</text><path transform="translate(348.9 508.64) scale(12.9 -12.9)" d="M0.296 0L0.434 0L0.434 0.716L0.343 0.716C0.318 0.652 0.236 0.572 0.062 0.512L0.062 0.392C0.158 0.422 0.238 0.462 0.296 0.514Z" fill="#0f62b6"/><text x="356.07" y="508.64" font-size="12.9" font-weight="bold" fill="#0f62b6">0</text>
<text x="344.6" y="485.48" font-size="12.9" font-weight="bold" fill="#0f62b6">0</text>
<path transform="translate(344.6 462.32) scale(12.9 -12.9)" d="M0.296 0L0.434 0L0.434 0.716L0.343 0.716C0.318 0.652 0.236 0.572 0.062 0.512L0.062 0.392C0.158 0.422 0.238 0.462 0.296 0.514Z" fill="#0f62b6"/><text x="351.77" y="462.32" font-size="12.9" font-weight="bold" fill="#0f62b6">0</text>
<text x="344.6" y="439.16" font-size="12.9" font-weight="bold" fill="#0f62b6">20</text>
<text x="344.6" y="416" font-size="12.9" font-weight="bold" fill="#0f62b6">30</text>
<text x="344.6" y="392.84" font-size="12.9" font-weight="bold" fill="#0f62b6">40</text>
<text x="344.6" y="369.68" font-size="12.9" font-weight="bold" fill="#0f62b6">50</text>
<text x="344.6" y="346.52" font-size="12.9" font-weight="bold" fill="#0f62b6">60</text>
<text x="344.6" y="323.36" font-size="12.9" font-weight="bold" fill="#0f62b6">70</text>
<text x="344.6" y="300.2" font-size="12.9" font-weight="bold" fill="#0f62b6">80</text>
<text transform="translate(15.6 412.5) rotate(-90)" font-size="15.5" font-weight="bold" text-anchor="middle" fill="#f7923f">TDS (ppm)</text>
<text transform="translate(379.3 409.4) rotate(-90)" font-size="14.2" font-weight="bold" text-anchor="middle" fill="#0f62b6">TSS (mg/L)</text>
<text x="63.4" y="545.2" font-size="10.4" font-weight="bold" textLength="21.9" lengthAdjust="spacingAndGlyphs">MFC</text>
<text x="91.3" y="545.2" font-size="10.4" font-weight="bold" textLength="54.5" lengthAdjust="spacingAndGlyphs">MFC-0.8NS</text>
<text x="155.3" y="545.2" font-size="10.4" font-weight="bold" textLength="46.8" lengthAdjust="spacingAndGlyphs">MFC-0.8S</text>
<text x="204.9" y="545.2" font-size="10.4" font-weight="bold" textLength="42.8" lengthAdjust="spacingAndGlyphs">PVDF A6</text>
<text x="258.6" y="545.2" font-size="10.4" font-weight="bold" textLength="17.6" lengthAdjust="spacingAndGlyphs">PES</text>
<text x="290.5" y="545.2" font-size="10.4" font-weight="bold" textLength="41.5" lengthAdjust="spacingAndGlyphs">PVDF V6</text>
<rect x="244.4" y="333.4" width="17" height="8.6" fill="#fab07a" stroke="#4d3a2e" stroke-width="1"/>
<text x="266.5" y="340.8" font-size="12.7" fill="#111">TDS</text>
<rect x="249.8" y="350.7" width="7.4" height="7.4" fill="#0a87cc"/>
<text x="266.5" y="356.6" font-size="12.7" fill="#111">TSS</text>
</svg>
</body></html>
